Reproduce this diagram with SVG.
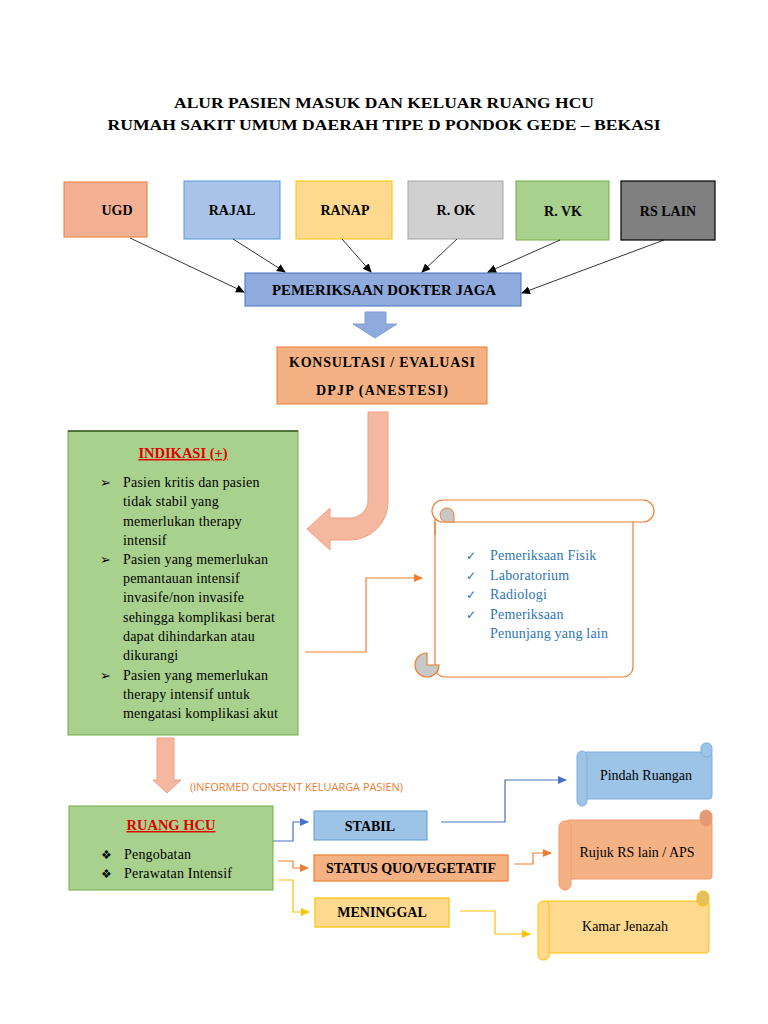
<svg xmlns="http://www.w3.org/2000/svg" width="768" height="1024" viewBox="0 0 768 1024">
<style>
.t{font-family:"Liberation Serif","Times New Roman",serif;fill:#000}
.h{font-size:15px;font-weight:bold}
.lbl{font-size:14px;font-weight:bold;text-anchor:middle}
.body{font-size:14px;letter-spacing:0.2px}
.blue{fill:#2E75B6}
.red{fill:#E00000;font-weight:bold;font-size:14.5px;text-decoration:underline;text-anchor:middle}
.sc{font-size:14px;text-anchor:middle}
.cn{fill:none;stroke-width:1.2}
.bul{font-family:"DejaVu Sans",sans-serif;font-size:13px}
</style>
<defs>
<marker id="ak" markerWidth="10" markerHeight="10" refX="8" refY="4" orient="auto" markerUnits="userSpaceOnUse"><path d="M0,0 L9,4 L0,8 Z" fill="#000"/></marker>
<marker id="ab" markerWidth="10" markerHeight="10" refX="8" refY="4" orient="auto" markerUnits="userSpaceOnUse"><path d="M0,0 L9,4 L0,8 Z" fill="#4472C4"/></marker>
<marker id="ao" markerWidth="10" markerHeight="10" refX="8" refY="4" orient="auto" markerUnits="userSpaceOnUse"><path d="M0,0 L9,4 L0,8 Z" fill="#ED7D31"/></marker>
<marker id="ay" markerWidth="10" markerHeight="10" refX="8" refY="4" orient="auto" markerUnits="userSpaceOnUse"><path d="M0,0 L9,4 L0,8 Z" fill="#FFC000"/></marker>
</defs>
<rect width="768" height="1024" fill="#fff"/>

<g id="title">
<text class="t h" x="384" y="108" text-anchor="middle" textLength="420" lengthAdjust="spacingAndGlyphs">ALUR PASIEN MASUK DAN KELUAR RUANG HCU</text>
<text class="t h" x="384" y="130" text-anchor="middle" textLength="553" lengthAdjust="spacingAndGlyphs">RUMAH SAKIT UMUM DAERAH TIPE D PONDOK GEDE – BEKASI</text>
</g>

<g id="ugd"><rect x="64" y="182" width="83" height="55" fill="#F4B093" stroke="#ED7D31" stroke-width="1"/><text class="t lbl" x="117" y="215">UGD</text></g>
<g id="rajal"><rect x="184" y="181" width="96" height="58" fill="#A9C4E8" stroke="#5B9BD5" stroke-width="1"/><text class="t lbl" x="232" y="215">RAJAL</text></g>
<g id="ranap"><rect x="296" y="181" width="96" height="58" fill="#FFD98E" stroke="#FFC000" stroke-width="1"/><text class="t lbl" x="345" y="215">RANAP</text></g>
<g id="rok"><rect x="408" y="181" width="95" height="58" fill="#D0D0D0" stroke="#A5A5A5" stroke-width="1"/><text class="t lbl" x="456" y="215">R. OK</text></g>
<g id="rvk"><rect x="516" y="181" width="93" height="59" fill="#A9D18E" stroke="#70AD47" stroke-width="1"/><text class="t lbl" x="563" y="216">R. VK</text></g>
<g id="rslain"><rect x="621" y="181" width="94" height="59" fill="#808080" stroke="#000" stroke-width="1.2"/><text class="t lbl" x="668" y="216">RS LAIN</text></g>

<g id="pemeriksaan"><rect x="245" y="273" width="276" height="33" fill="#8FAADC" stroke="#4472C4" stroke-width="1"/><text class="t lbl" x="384" y="295" textLength="224" lengthAdjust="spacingAndGlyphs">PEMERIKSAAN DOKTER JAGA</text></g>

<g id="connectors">
<line x1="130" y1="238" x2="244" y2="292" stroke="#000" stroke-width="0.8" marker-end="url(#ak)"/>
<line x1="233" y1="239" x2="285" y2="272" stroke="#000" stroke-width="0.8" marker-end="url(#ak)"/>
<line x1="342" y1="239" x2="371" y2="272" stroke="#000" stroke-width="0.8" marker-end="url(#ak)"/>
<line x1="457" y1="239" x2="422" y2="272" stroke="#000" stroke-width="0.8" marker-end="url(#ak)"/>
<line x1="560" y1="240" x2="488" y2="272" stroke="#000" stroke-width="0.8" marker-end="url(#ak)"/>
<line x1="664" y1="240" x2="522" y2="293" stroke="#000" stroke-width="0.8" marker-end="url(#ak)"/>
<path class="cn" d="M305,652 H366 V578 H422" stroke="#ED7D31" marker-end="url(#ao)"/>
<path class="cn" d="M273,841 H293 V822 H308" stroke="#4472C4" marker-end="url(#ab)"/>
<path class="cn" d="M278,861 H293 V868 H308" stroke="#ED7D31" marker-end="url(#ao)"/>
<path class="cn" d="M278,880 H293 V912 H309" stroke="#FFC000" marker-end="url(#ay)"/>
<path class="cn" d="M441,822 H505 V780 H566" stroke="#4472C4" marker-end="url(#ab)"/>
<path class="cn" d="M514,864 H533 V853 H551" stroke="#ED7D31" marker-end="url(#ao)"/>
<path class="cn" d="M460,911 H495 V934 H530" stroke="#FFC000" marker-end="url(#ay)"/>
</g>

<g id="arrow-down-blue"><path d="M365,312 H386 V324 H397 L375,338 L353,324 H365 Z" fill="#8FAADC" stroke="#7F9FD6" stroke-width="1"/></g>

<g id="konsultasi"><rect x="277" y="347" width="210" height="57" fill="#F4B183" stroke="#ED7D31" stroke-width="1"/>
<text class="t lbl" x="382" y="367" textLength="186" lengthAdjust="spacing">KONSULTASI / EVALUASI</text>
<text class="t lbl" x="382" y="395" textLength="132" lengthAdjust="spacing">DPJP (ANESTESI)</text></g>

<g id="arrow-j"><path d="M368,412 H388 V502 A38,38 0 0 1 350,540 H330 V550 L307,529 L330,508 V518 H350 A18,18 0 0 0 368,500 Z" fill="#F4B8A0" stroke="#F0A080" stroke-width="1"/></g>

<g id="indikasi"><rect x="68" y="431" width="230" height="304" fill="#A9D18E" stroke="#70AD47" stroke-width="1"/>
<line x1="68" y1="431" x2="298" y2="431" stroke="#375623" stroke-width="1.5"/>
<text class="t red" x="183" y="458">INDIKASI (+)</text>
<g class="t body">
<text class="bul" x="100" y="487">➢</text>
<text x="123" y="487">Pasien kritis dan pasien</text>
<text x="123" y="506">tidak stabil yang</text>
<text x="123" y="526">memerlukan therapy</text>
<text x="123" y="545">intensif</text>
<text class="bul" x="100" y="564">➢</text>
<text x="123" y="564">Pasien yang memerlukan</text>
<text x="123" y="583">pemantauan intensif</text>
<text x="123" y="602">invasife/non invasife</text>
<text x="123" y="622">sehingga komplikasi berat</text>
<text x="123" y="641">dapat dihindarkan atau</text>
<text x="123" y="660">dikurangi</text>
<text class="bul" x="100" y="680">➢</text>
<text x="123" y="680">Pasien yang memerlukan</text>
<text x="123" y="699">therapy intensif untuk</text>
<text x="123" y="718">mengatasi komplikasi akut</text>
</g></g>

<g id="scroll-check">
<rect x="435" y="511" width="198" height="166" rx="10" fill="#fff" stroke="#ED7D31" stroke-width="1.2"/>
<rect x="432" y="500" width="222" height="22" rx="11" fill="#fff" stroke="#ED7D31" stroke-width="1.2"/>
<path d="M454,515 A7,7 0 1 0 447,522 H454 Z" fill="#C8C8C8" stroke="#ED7D31" stroke-width="1"/>
<path d="M435,522 V535" stroke="#ED7D31" stroke-width="1.2"/>
<path d="M427,653 A12,12 0 1 0 439,665 H427 Z" fill="#C8C8C8" stroke="#ED7D31" stroke-width="1.2"/>
<g class="t body blue" font-size="14.5">
<text x="466" y="560" font-size="12">✓</text><text x="490" y="560">Pemeriksaan Fisik</text>
<text x="466" y="580" font-size="12">✓</text><text x="490" y="580">Laboratorium</text>
<text x="466" y="599" font-size="12">✓</text><text x="490" y="599">Radiologi</text>
<text x="466" y="619" font-size="12">✓</text><text x="490" y="619">Pemeriksaan</text>
<text x="490" y="638">Penunjang yang lain</text>
</g></g>

<g id="arrow-down-salmon"><path d="M157,738 H174 V780 H181 L167,793 L153,780 H157 Z" fill="#F4B8A0" stroke="#F0A080" stroke-width="1"/></g>
<text x="190" y="791" font-family="'Open Sans','Liberation Sans',sans-serif" font-size="11" fill="#ED7D31" textLength="213" lengthAdjust="spacingAndGlyphs">(INFORMED CONSENT KELUARGA PASIEN)</text>

<g id="ruang-hcu"><rect x="69" y="806" width="204" height="84" fill="#A9D18E" stroke="#70AD47" stroke-width="1"/>
<text class="t red" x="171" y="830" font-size="15.5">RUANG HCU</text>
<g class="t body"><text x="101" y="859" font-size="12">❖</text><text x="124" y="859">Pengobatan</text>
<text x="101" y="878" font-size="12">❖</text><text x="124" y="878">Perawatan Intensif</text></g></g>

<g id="stabil"><rect x="314" y="811" width="113" height="29" fill="#9DC3E6" stroke="#5B9BD5" stroke-width="1"/><text class="t lbl" x="370" y="831">STABIL</text></g>
<g id="statusquo"><rect x="314" y="855" width="194" height="26" fill="#F4B183" stroke="#ED7D31" stroke-width="1.2"/><text class="t lbl" x="411" y="873" textLength="170" lengthAdjust="spacing">STATUS QUO/VEGETATIF</text></g>
<g id="meninggal"><rect x="315" y="898" width="134" height="29" fill="#FFD98E" stroke="#FFC000" stroke-width="1.2"/><text class="t lbl" x="382" y="917">MENINGGAL</text></g>

<g id="pindah">
<rect x="584" y="752" width="128" height="47" rx="3" fill="#9DC3E6" stroke="#7FB0E0" stroke-width="1"/>
<rect x="701" y="743" width="11" height="14" rx="5" fill="#9DC3E6" stroke="#7FB0E0" stroke-width="1"/>
<rect x="577" y="751" width="10" height="55" rx="5" fill="#9DC3E6" stroke="#7FB0E0" stroke-width="1"/>
<text class="t sc" x="646" y="780">Pindah Ruangan</text></g>

<g id="rujuk">
<rect x="566" y="820" width="146" height="59" rx="3" fill="#F4B183" stroke="#F09A70" stroke-width="1"/>
<rect x="700" y="810" width="12" height="16" rx="6" fill="#E49A78" stroke="#F09A70" stroke-width="1"/>
<rect x="559" y="821" width="12" height="69" rx="6" fill="#F4B183" stroke="#F09A70" stroke-width="1"/>
<text class="t sc" x="637" y="857">Rujuk RS lain / APS</text></g>

<g id="kamar">
<rect x="544" y="901" width="165" height="52" rx="3" fill="#FFD98E" stroke="#FFC000" stroke-width="1"/>
<rect x="697" y="891" width="12" height="15" rx="6" fill="#E6C060" stroke="#FFC000" stroke-width="1"/>
<rect x="538" y="901" width="11" height="59" rx="5" fill="#FFD98E" stroke="#FFC000" stroke-width="1"/>
<text class="t sc" x="625" y="931">Kamar Jenazah</text></g>
</svg>
